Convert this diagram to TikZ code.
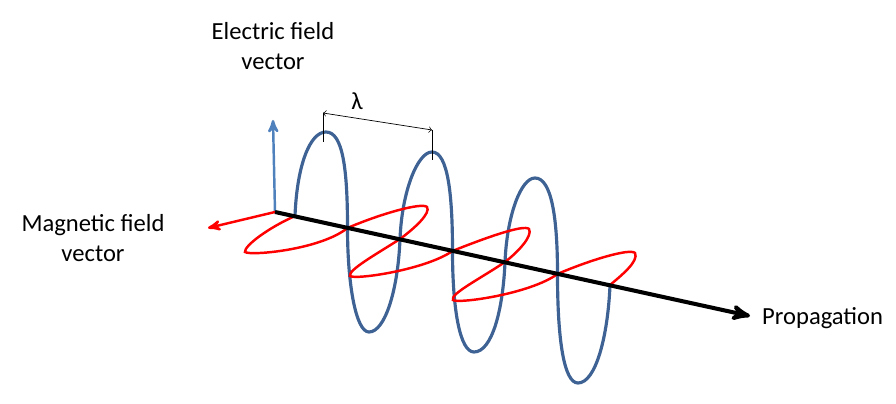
\documentclass[tikz,border=0pt]{standalone}
\usepackage{fontspec}
\setmainfont{Carlito}
\usetikzlibrary{arrows}

\begin{document}
\begin{tikzpicture}[
    x=0.02cm, y=-0.02cm,
    efield/.style={line width=1.8pt, color={rgb,255:red,62;green,98;blue,148}},
    bfield/.style={line width=1.4pt, color=red},
    axis/.style={line width=2.3pt, ->, >=stealth'},
    every node/.style={%
        font=\fontsize{14}{17}\selectfont,
        align=center
        }
    ]
    \useasboundingbox (0,0) rectangle (896,404);
    \coordinate (O) at (275,212);
    \coordinate (P) at (750,316);
    % crossings on the axis
    \coordinate (c0) at (295,216);
    \coordinate (c1) at (347.5,228);
    \coordinate (c2) at (400,239);
    \coordinate (c3) at (452.5,251);
    \coordinate (c4) at (505,262);
    \coordinate (c5) at (557.5,274);
    \coordinate (c6) at (610,285);
    % electric wave
    \draw[efield] (c0) .. controls (297,165) and (310,132) .. (326,132)
        .. controls (343,132) and (347.5,170) .. (c1)
        .. controls (347.5,285) and (356,332) .. (369,332)
        .. controls (385,332) and (398,290) .. (c2)
        .. controls (402,190) and (418,152) .. (432,152)
        .. controls (448,152) and (452.5,195) .. (c3)
        .. controls (452.5,310) and (460,352) .. (474,352)
        .. controls (492,352) and (503,310) .. (c4)
        .. controls (507,215) and (521,178) .. (535,178)
        .. controls (552,178) and (557.5,220) .. (c5)
        .. controls (557.5,340) and (564,383) .. (578,383)
        .. controls (596,383) and (608,335) .. (c6);
    % magnetic wave
    \draw[bfield] (c0) .. controls (268,228) and (244,246) .. (245,252)
        .. controls (250,256) and (320,250) .. (c1)
        .. controls (380,214) and (422,202) .. (427,207)
        .. controls (431,213) and (415,228) .. (c2)
        .. controls (375,255) and (348,270) .. (350,276)
        .. controls (355,280) and (425,270) .. (c3)
        .. controls (485,238) and (524,224) .. (529,229)
        .. controls (533,236) and (518,252) .. (c4)
        .. controls (478,280) and (450,294) .. (453,300)
        .. controls (458,304) and (530,294) .. (c5)
        .. controls (590,260) and (630,248) .. (635,253)
        .. controls (639,261) and (622,275) .. (c6);
    % field vectors
    \draw[line width=1.4pt, color={rgb,255:red,79;green,129;blue,189}, ->, >=stealth']
        (O) -- (273,120) coordinate (E);
    \draw[bfield, ->, >=stealth'] (O) -- (208,228) coordinate (B);
    \draw[axis] (O) -- (P);
    % wavelength
    \coordinate (L1) at (323,113);
    \coordinate (L2) at (432,130);
    \draw[thin] (L1) -- (323,142);
    \draw[thin] (L2) -- (432,160);
    \draw[thin, <->, >=to] (L1) -- (L2);
    \node (lambda) at (357,101) {λ};
    % labels
    \node (elabel) at (273,46) {Electric field\\vector};
    \node (blabel) at (93,238) {Magnetic field\\vector};
    \node[right] (plabel) at (756,318) {Propagation};
\end{tikzpicture}
\end{document}
